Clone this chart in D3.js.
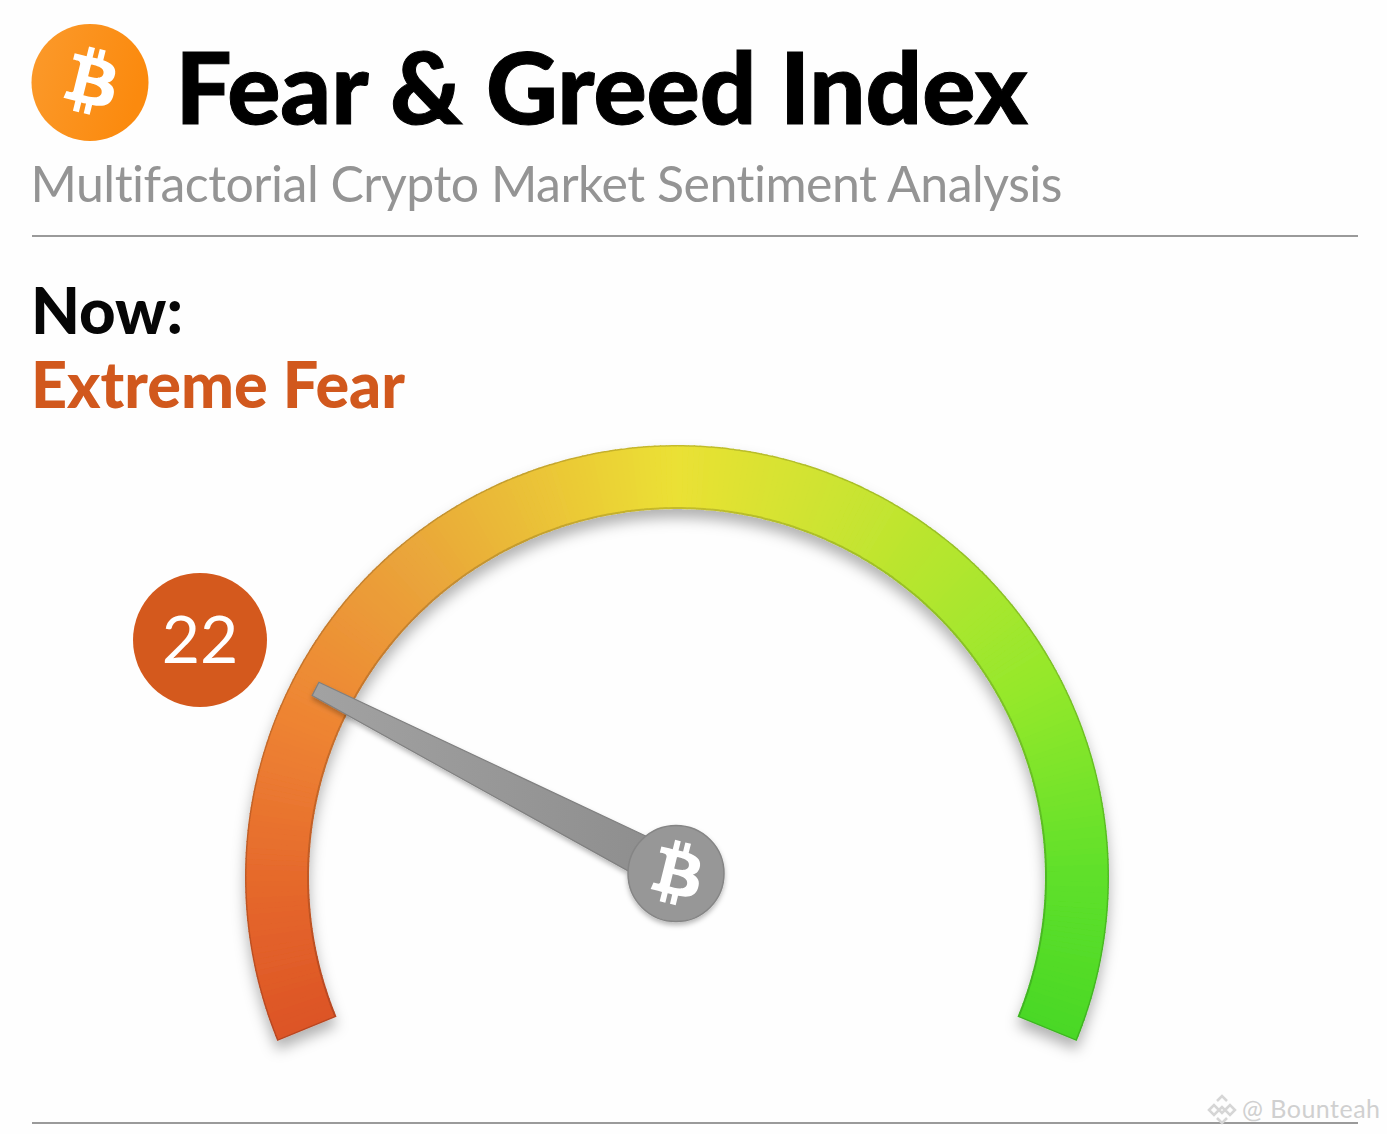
<!DOCTYPE html>
<html><head><meta charset="utf-8">
<script src="https://cdn.jsdelivr.net/npm/d3@7"></script>
<style>html,body{margin:0;padding:0;background:#fefefe}svg{display:block}text{font-family:Lato,sans-serif;font-variant-ligatures:none;font-feature-settings:"liga" 0}</style>
</head><body><svg id="c" width="1387" height="1134"></svg>
<script>
const title = "Fear & Greed Index";
const subtitle = "Multifactorial Crypto Market Sentiment Analysis";
const nowLabel = "Now:";
const sentimentLabel = "Extreme Fear";
const watermark = "@ Bounteah";
const currentValue = 22;
const valueDomain = [0, 100];
const stopValues = [0, 8, 20, 32, 50, 65, 78, 90, 100];
const stopColors = ["#dc5426","#e4652b","#ee8433","#eaa43a","#ebe134","#bde52f","#93e82c","#5fe02a","#4ad827"];

const W=1387,H=1134;
const svg=d3.select("#c");
const BTC="M17.288 10.291c.24-1.59-.974-2.45-2.64-3.03l.54-2.153-1.315-.33-.525 2.107c-.345-.087-.705-.167-1.064-.25l.526-2.127-1.32-.33-.54 2.165c-.285-.067-.565-.132-.84-.2l-1.815-.45-.35 1.407s.975.225.955.236c.535.136.63.486.615.766l-1.477 5.92c-.075.166-.24.406-.614.314.015.02-.96-.24-.96-.24l-.66 1.51 1.71.426.93.242-.54 2.19 1.32.327.54-2.17c.36.1.705.19 1.05.273l-.51 2.154 1.32.33.545-2.19c2.24.427 3.93.257 4.64-1.774.57-1.637-.03-2.58-1.217-3.196.854-.193 1.5-.76 1.68-1.93h.01zm-3.01 4.22c-.404 1.64-3.157.75-4.05.53l.72-2.9c.896.23 3.757.67 3.33 2.37zm.41-4.24c-.37 1.49-2.662.735-3.405.55l.654-2.64c.744.18 3.137.52 2.75 2.09z";

const defs=svg.append("defs");
const shadow=defs.append("filter").attr("id","gs").attr("x","-10%").attr("y","-10%").attr("width","120%").attr("height","125%");
shadow.append("feDropShadow").attr("dx",0).attr("dy",9).attr("stdDeviation",7).attr("flood-color","#000").attr("flood-opacity",0.3);
const small=defs.append("filter").attr("id","ns").attr("x","-10%").attr("y","-10%").attr("width","120%").attr("height","130%");
small.append("feDropShadow").attr("dx",0).attr("dy",3).attr("stdDeviation",2.5).attr("flood-color","#000").attr("flood-opacity",0.28);
const og=defs.append("linearGradient").attr("id","og").attr("x1",0).attr("y1",0).attr("x2",1).attr("y2",.3);
og.append("stop").attr("offset",0).attr("stop-color","#fb9a2c");
og.append("stop").attr("offset",1).attr("stop-color","#fb8a0e");

svg.append("rect").attr("width",W).attr("height",H).attr("fill","#fefefe");

// header
const logo=svg.append("g").attr("transform","translate(90,82.5)");
logo.append("circle").attr("r",58.5).attr("fill","url(#og)");
logo.append("path").attr("d",BTC).attr("fill","#fff").attr("transform","scale(4.5) translate(-11.7,-12.2)");
svg.append("text").attr("x",175.5).attr("y",124).attr("font-size",99).attr("font-weight",900).attr("fill","#000").attr("stroke","#000").attr("stroke-width",1).attr("textLength",852).attr("lengthAdjust","spacingAndGlyphs").text(title);
svg.append("text").attr("x",30.5).attr("y",202).attr("font-size",50).attr("font-weight",400).attr("fill","#949494").attr("textLength",1032).attr("lengthAdjust","spacing").text(subtitle);
svg.append("text").attr("x",31).attr("y",334).attr("font-size",64).attr("font-weight",900).attr("fill","#060606").attr("textLength",152).attr("lengthAdjust","spacingAndGlyphs").text(nowLabel);
svg.append("text").attr("x",31).attr("y",408).attr("font-size",64).attr("font-weight",900).attr("fill","#d1581d").attr("textLength",374).attr("lengthAdjust","spacingAndGlyphs").text(sentimentLabel);
svg.selectAll("line.rule").data([236,1123]).join("line").attr("class","rule")
  .attr("x1",32).attr("x2",1358).attr("y1",d=>d).attr("y2",d=>d).attr("stroke","#9a9a9a").attr("stroke-width",2);

// gauge
const cx=677,cy=877,rOuter=432,rInner=368,sweep=112.3*Math.PI/180;
const angle=d3.scaleLinear().domain(valueDomain).range([-sweep,sweep]);
const color=d3.scaleLinear().domain(stopValues).range(stopColors).interpolate(d3.interpolateRgb);
const gauge=svg.append("g").attr("transform",`translate(${cx},${cy})`).attr("filter","url(#gs)");
const steps=d3.range(0,300);
const stepVal=d3.scaleLinear().domain([0,300]).range(valueDomain);
const arcOuter=d3.arc().innerRadius(rInner).outerRadius(rOuter);
const arcBody=d3.arc().innerRadius(rInner+2).outerRadius(rOuter-1.5);
gauge.selectAll("path.edge").data(steps).join("path").attr("class","edge")
  .attr("d",i=>arcOuter({startAngle:angle(stepVal(i)),endAngle:angle(stepVal(i+1))+(i<299?.002:0)}))
  .attr("fill",i=>d3.color(color(stepVal(i+.5))).darker(.5));
gauge.selectAll("path.seg").data(steps).join("path").attr("class","seg")
  .attr("d",i=>arcBody({startAngle:angle(stepVal(i))+(i==0?.003:0),endAngle:angle(stepVal(i+1))+(i<299?.002:-.003)}))
  .attr("fill",i=>color(stepVal(i+.5)));

// badge
svg.append("circle").attr("cx",200).attr("cy",640).attr("r",67).attr("fill","#d4591d");
svg.append("text").attr("x",200).attr("y",663).attr("text-anchor","middle").attr("font-size",66).attr("font-weight",400).attr("fill","#fff").text(currentValue);

// needle
const hx=676,hy=873.5,hubR=48,needleLen=405;
const a=angle(currentValue);
const radial=(r,off)=>[hx+r*Math.sin(a)+off*Math.cos(a),hy-r*Math.cos(a)+off*Math.sin(a)];
const needle=svg.append("g").attr("filter","url(#ns)");
const grayG=defs.append("linearGradient").attr("id","ng").attr("x1",0).attr("y1",0).attr("x2",1).attr("y2",0);
grayG.append("stop").attr("offset",0).attr("stop-color","#a2a2a2");
grayG.append("stop").attr("offset",1).attr("stop-color","#8e8e8e");
needle.append("path").attr("d",d3.line()([radial(needleLen,-7.5),radial(needleLen,7.5),radial(30,20),radial(30,-20)])+"Z")
  .attr("fill","url(#ng)").attr("stroke","#808080").attr("stroke-width",1.2);
needle.append("circle").attr("cx",hx).attr("cy",hy).attr("r",hubR).attr("fill","#979797").attr("stroke","#858585").attr("stroke-width",1.5);
needle.append("path").attr("d",BTC).attr("fill","#fff").attr("transform",`translate(${hx},${hy}) scale(4.3) translate(-11.7,-12)`);

// watermark
const wm=svg.append("g").attr("transform","translate(1222,1110)").attr("fill","none").attr("stroke","#d6d6d6").attr("stroke-width",2.5);
wm.append("path").attr("d","M-13 0L-8 -5L-3 0L-8 5ZM3 0L8 -5L13 0L8 5ZM-5 -9L0 -14L5 -9M-5 8L0 13L5 8M-3 0L0 -3L3 0L0 3Z");
svg.append("text").attr("x",1242).attr("y",1118).attr("font-size",25).attr("font-weight",400).attr("fill","#d0d0d0").attr("textLength",138).attr("lengthAdjust","spacing").text(watermark);
</script></body></html>
